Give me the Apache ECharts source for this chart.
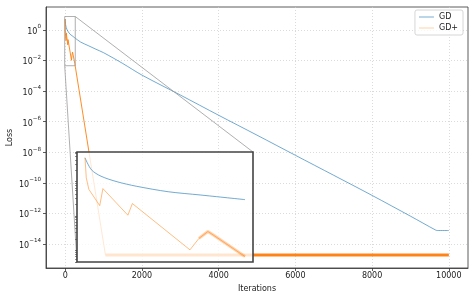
<!DOCTYPE html>
<html>
<head>
<meta charset="utf-8">
<script src="https://cdn.jsdelivr.net/npm/echarts@6/dist/echarts.min.js"></script>
<style>
  html, body { margin: 0; padding: 0; background: #fff; }
  #chart { width: 474px; height: 300px; }
</style>
</head>
<body>
<div id="chart"></div>
<script>
// --- data ---
const gdIters = [0, 10, 25, 50, 80, 130, 180, 250, 400, 600, 800, 1000, 1500, 2000,
                 3000, 4000, 5000, 6000, 7000, 8000, 9000, 9650, 9700, 10000];
const gdLoss  = [5.0, 2.24, 1.45, 1.0, 0.74, 0.51, 0.41, 0.30, 0.16, 0.093, 0.054, 0.032, 6.3e-3, 1.1e-3,
                 5.5e-5, 2.6e-6, 1.3e-7, 6.3e-9, 3.1e-10, 1.5e-11, 6.6e-13, 8.3e-14, 7.6e-14, 7.6e-14];

const gdpIters = [0, 2, 6, 23, 28, 67, 74, 164, 178, 192, 200, 250, 1050, 10000];
const gdpLoss  = [5.0, 1.3, 0.6, 0.2, 0.63, 0.105, 0.23, 0.0102, 0.022, 0.035, 0.028, 0.0065, 1.9e-15, 1.9e-15];

const xRange = [-500, 10500];
const yRange = [2.7e-16, 31];
const xTicks = [0, 2000, 4000, 6000, 8000, 10000];
const yTicks = [1e-14, 1e-12, 1e-10, 1e-8, 1e-6, 1e-4, 1e-2, 1e0];

// inset: first 250 iterations, zoomed
const insetLast = 250;
const insetX = [-12.5, 262.5];
const insetY = [4.5e-3, 7.4];

const zip = (xs, ys) => xs.map((x, i) => [x, ys[i]]);
const upTo = (pts, xmax) => pts.filter(p => p[0] <= xmax);

// "10^n" label with a raised exponent
const powLabel = v => '{b|10}{e|' + String(Math.round(Math.log10(v))).replace('-', '−') + '}';

const BLUE = '#1f77b4';
const ORANGE = '#ff7f0e';
const FONT = 'DejaVu Sans';

const chart = echarts.init(document.getElementById('chart'), null, { renderer: 'canvas' });

const gdPts  = zip(gdIters, gdLoss);
const gdpPts = zip(gdpIters, gdpLoss);

chart.setOption({
  animation: false,
  textStyle: { fontFamily: FONT },
  grid: [
    { left: 46, top: 7, right: 6, bottom: 32, show: true, borderColor: '#333', borderWidth: 0.8,
      backgroundColor: 'transparent', containLabel: false, outerBoundsMode: 'none' },
    { left: 77, top: 152, width: 176, height: 110, show: true, z: 10, outerBoundsMode: 'none',
      backgroundColor: 'rgba(255,255,255,0.8)', borderColor: '#444', borderWidth: 1.6 }
  ],
  legend: {
    data: [
      { name: 'GD', itemStyle: { color: 'rgba(31,119,180,0.6)' } },
      { name: 'GD+', itemStyle: { color: 'rgba(255,127,14,0.35)' } }
    ],
    icon: 'rect',
    orient: 'vertical', right: 11, top: 10,
    itemWidth: 15, itemHeight: 1, itemGap: 3,
    padding: [3, 5, 3, 4],
    borderColor: '#ccc', borderWidth: 0.8, borderRadius: 2,
    backgroundColor: 'rgba(255,255,255,0.8)',
    textStyle: { fontSize: 8, color: '#222', fontFamily: FONT }
  },
  xAxis: [
    {
      type: 'value', gridIndex: 0, min: xRange[0], max: xRange[1],
      name: 'Iterations', nameLocation: 'middle', nameGap: 16,
      nameTextStyle: { fontSize: 8, color: '#222', fontFamily: FONT },
      axisLine: { onZero: false, lineStyle: { color: '#333', width: 0.8 } },
      axisTick: { customValues: xTicks, length: 3, lineStyle: { color: '#333', width: 0.8 } },
      axisLabel: { customValues: xTicks, fontSize: 8, color: '#222', margin: 4, formatter: v => String(v) },
      splitLine: { show: true, lineStyle: { color: '#ccc', width: 0.7, type: [1, 2] } }
    },
    {
      type: 'value', gridIndex: 1, min: insetX[0], max: insetX[1], z: 12,
      axisLine: { show: false }, axisTick: { show: false },
      axisLabel: { show: false }, splitLine: { show: false }
    }
  ],
  yAxis: [
    {
      type: 'log', gridIndex: 0, min: yRange[0], max: yRange[1],
      name: 'Loss', nameLocation: 'middle', nameGap: 32, nameRotate: 90, nameMoveOverlap: false,
      nameTextStyle: { fontSize: 8, color: '#222', fontFamily: FONT },
      axisLine: { show: true, onZero: false, lineStyle: { color: '#333', width: 0.8 } },
      axisTick: { show: true, customValues: yTicks, length: 3, lineStyle: { color: '#333', width: 0.8 } },
      axisLabel: {
        customValues: yTicks, color: '#222', margin: 5, formatter: powLabel,
        rich: {
          b: { fontSize: 8, color: '#222', fontFamily: FONT, lineHeight: 12, verticalAlign: 'bottom' },
          e: { fontSize: 5.6, color: '#222', fontFamily: FONT, lineHeight: 7, verticalAlign: 'top' }
        }
      },
      splitLine: { show: true, lineStyle: { color: '#ccc', width: 0.7, type: [1, 2] } }
    },
    {
      type: 'log', gridIndex: 1, min: insetY[0], max: insetY[1], z: 12,
      axisLine: { show: false, onZero: false },
      axisTick: { show: true, length: 2, lineStyle: { color: '#444', width: 0.7 } },
      minorTick: { show: true, splitNumber: 8, length: 2, lineStyle: { color: '#444', width: 0.6 } },
      axisLabel: { show: false }, splitLine: { show: false }
    }
  ],
  series: [
    {
      name: 'GD', type: 'line', xAxisIndex: 0, yAxisIndex: 0, z: 2,
      data: gdPts, symbol: 'none', color: BLUE, smooth: 0.3,
      lineStyle: { width: 0.9, opacity: 0.7 }
    },
    {
      name: 'GD+', type: 'line', xAxisIndex: 0, yAxisIndex: 0, z: 3,
      data: gdpPts, symbol: 'none', color: ORANGE,
      lineStyle: { width: 1, opacity: 0.9 }
    },
    {
      // noisy plateau of GD+ drawn as a thick band
      name: 'GD+ floor', type: 'line', xAxisIndex: 0, yAxisIndex: 0, z: 3,
      data: gdpPts.slice(-2), symbol: 'none', color: ORANGE,
      lineStyle: { width: 3, opacity: 0.95 }
    },
    // inset
    {
      name: 'GD', type: 'line', xAxisIndex: 1, yAxisIndex: 1, z: 12,
      data: upTo(gdPts, insetLast), symbol: 'none', color: BLUE, smooth: 0.3,
      lineStyle: { width: 0.9, opacity: 0.7 }
    },
    {
      name: 'GD+', type: 'line', xAxisIndex: 1, yAxisIndex: 1, z: 12,
      data: upTo(gdpPts, insetLast), symbol: 'none', color: ORANGE,
      lineStyle: { width: 0.8, opacity: 0.65 }
    },
    {
      name: 'GD+ band', type: 'line', xAxisIndex: 1, yAxisIndex: 1, z: 12,
      data: gdpPts.slice(8, 12), symbol: 'none', color: ORANGE,
      lineStyle: { width: 3, opacity: 0.35 }
    }
  ]
});

// --- zoom rectangle and connector lines ---
const mainPx  = p => chart.convertToPixel({ xAxisIndex: 0, yAxisIndex: 0 }, p);
const insetPx = p => chart.convertToPixel({ xAxisIndex: 1, yAxisIndex: 1 }, p);

const rTL = mainPx([insetX[0], insetY[1]]);
const rTR = mainPx([insetX[1], insetY[1]]);
const rBR = mainPx([insetX[1], insetY[0]]);
const rBL = mainPx([insetX[0], insetY[0]]);
const iTR = insetPx([insetX[1], insetY[1]]);
const iBL = insetPx([insetX[0], insetY[0]]);

const grayLine = { stroke: '#9a9a9a', lineWidth: 0.8, fill: null };
chart.setOption({
  graphic: [
    { type: 'polyline', z: 5, silent: true, shape: { points: [rTL, rTR, rBR, rBL, rTL] }, style: grayLine },
    { type: 'line', z: 5, silent: true, shape: { x1: rTR[0], y1: rTR[1], x2: iTR[0], y2: iTR[1] }, style: grayLine },
    { type: 'line', z: 5, silent: true, shape: { x1: rBL[0], y1: rBL[1], x2: iBL[0], y2: iBL[1] }, style: grayLine }
  ]
});
</script>
</body>
</html>
